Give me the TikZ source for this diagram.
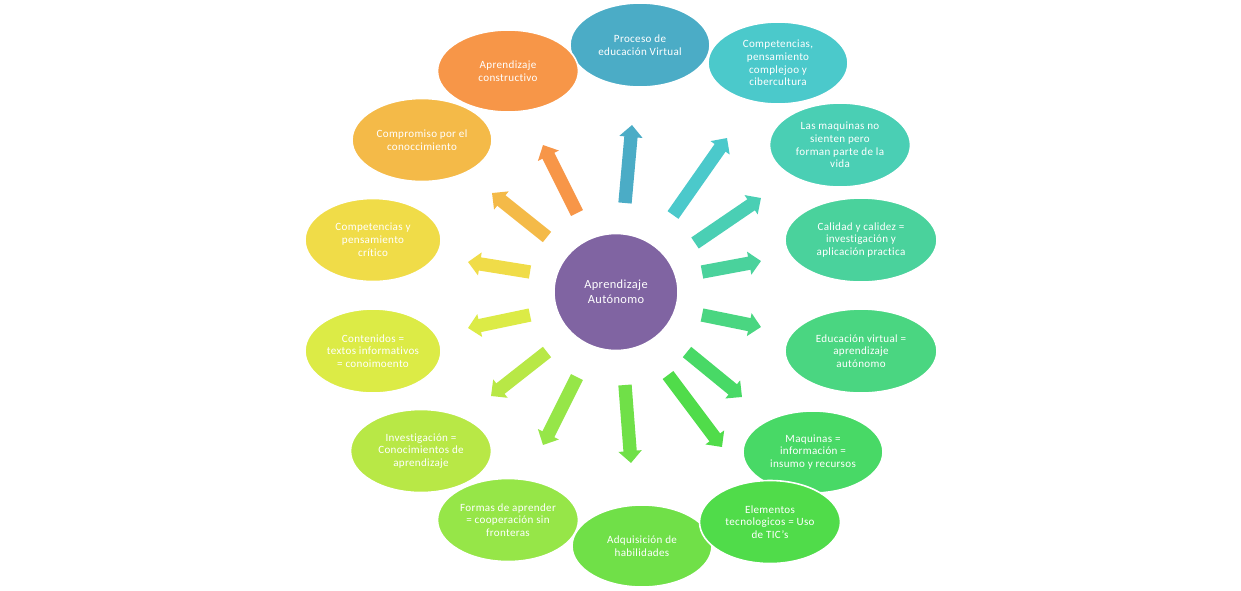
\documentclass[tikz,border=0pt]{standalone}
\usepackage{fontspec}
\setmainfont[Ligatures=NoCommon,LetterSpace=3]{Carlito}
\usetikzlibrary{shapes.geometric,arrows.meta}
\definecolor{cA}{HTML}{4BACC6}
\definecolor{cB}{HTML}{4BC9CB}
\definecolor{cC}{HTML}{4ACFB4}
\definecolor{cD}{HTML}{4AD29C}
\definecolor{cE}{HTML}{4AD681}
\definecolor{cF}{HTML}{48D966}
\definecolor{cG}{HTML}{50DC4A}
\definecolor{cH}{HTML}{70E048}
\definecolor{cI}{HTML}{96E648}
\definecolor{cJ}{HTML}{B8E846}
\definecolor{cK}{HTML}{DCEB46}
\definecolor{cL}{HTML}{F0DC48}
\definecolor{cM}{HTML}{F4BA48}
\definecolor{cN}{HTML}{F79648}
\definecolor{cP}{HTML}{8064A2}
\tikzset{
  bub/.style={ellipse, draw=white, line width=1.2pt, text=white, align=center,
    inner sep=0pt, font=\fontsize{8.3}{9.6}\selectfont},
  sz/.style 2 args={minimum width=#1*0.75pt, minimum height=#2*0.75pt},
  barr/.style={line width=10pt, draw=#1, -{Triangle[width=17pt,length=9pt]}}
}
\begin{document}
\begin{tikzpicture}[x=0.75pt,y=-0.75pt]
\useasboundingbox (0,0) rectangle (1241,590);
% ellipses
\node[bub, sz={140}{84}, fill=cA] (n1) at (640,45) {Proceso de\\educación Virtual};
\node[bub, sz={140}{82}, fill=cH] (n8) at (642,546) {Adquisición de\\habilidades};
\node[bub, sz={140}{82}, fill=cF] (n6) at (813,452) {Maquinas =\\información =\\insumo y recursos};
\node[bub, sz={141}{83}, fill=cG] (n7) at (770,522) {Elementos\\tecnologicos = Uso\\de TIC's};
\node[bub, sz={141}{83}, fill=cI] (n9) at (508,520) {Formas de aprender\\= cooperación sin\\fronteras};
\node[bub, sz={140}{82}, fill=cB] (n2) at (778,63) {Competencias,\\pensamiento\\complejoo y\\cibercultura};
\node[bub, sz={141}{84}, fill=cC] (n3) at (840,145) {Las maquinas no\\sienten pero\\forman parte de la\\vida};
\node[bub, sz={152}{84}, fill=cD] (n4) at (861,240) {Calidad y calidez =\\investigación y\\aplicación practica};
\node[bub, sz={152}{84}, fill=cE] (n5) at (861,351) {Educación virtual =\\aprendizaje\\autónomo};
\node[bub, sz={141}{83}, fill=cJ] (n10) at (421,451) {Investigación =\\Conocimientos de\\aprendizaje};
\node[bub, sz={136}{84}, fill=cK] (n11) at (373,351) {Contenidos =\\textos informativos\\= conoimoento};
\node[bub, sz={136}{83}, fill=cL] (n12) at (373,240) {Competencias y\\pensamiento\\crítico};
\node[bub, sz={140}{83}, fill=cM] (n13) at (422,140) {Compromiso por el\\conoccimiento};
\node[bub, sz={141}{82}, fill=cN] (n14) at (508,71) {Aprendizaje\\constructivo};
\node[bub, sz={124}{117}, fill=cP, font=\fontsize{9.3}{11}\selectfont] (c) at (616,292) {Aprendizaje\\Autónomo};
% arrow ends
\coordinate (t1) at (625,203);  \coordinate (h1) at (632,125);
\coordinate (t2) at (673,215);  \coordinate (h2) at (727,138);
\coordinate (t3) at (695,243);  \coordinate (h3) at (761,198);
\coordinate (t4) at (702,272);  \coordinate (h4) at (761,261);
\coordinate (t5) at (702,315);  \coordinate (h5) at (761,327);
\coordinate (t6) at (687,352);  \coordinate (h6) at (742,397);
\coordinate (t7) at (668,375);  \coordinate (h7) at (722,447);
\coordinate (t8) at (625,385);  \coordinate (h8) at (631,463);
\coordinate (t9) at (577,377);  \coordinate (h9) at (543,445);
\coordinate (t10) at (547,352); \coordinate (h10) at (491,396);
\coordinate (t11) at (530,315); \coordinate (h11) at (468,328);
\coordinate (t12) at (530,272); \coordinate (h12) at (468,262);
\coordinate (t13) at (547,237); \coordinate (h13) at (492,193);
\coordinate (t14) at (577,213); \coordinate (h14) at (543,145);
% arrows
\draw[barr=cA] (t1) -- (h1);
\draw[barr=cB] (t2) -- (h2);
\draw[barr=cC] (t3) -- (h3);
\draw[barr=cD] (t4) -- (h4);
\draw[barr=cE] (t5) -- (h5);
\draw[barr=cF] (t6) -- (h6);
\draw[barr=cG] (t7) -- (h7);
\draw[barr=cH] (t8) -- (h8);
\draw[barr=cI] (t9) -- (h9);
\draw[barr=cJ] (t10) -- (h10);
\draw[barr=cK] (t11) -- (h11);
\draw[barr=cL] (t12) -- (h12);
\draw[barr=cM] (t13) -- (h13);
\draw[barr=cN] (t14) -- (h14);
\end{tikzpicture}
\end{document}
